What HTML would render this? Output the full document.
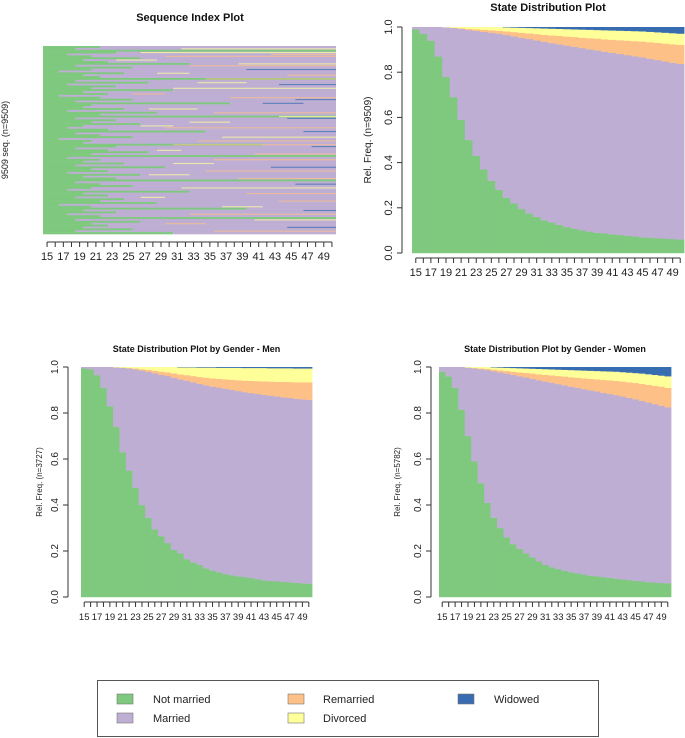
<!DOCTYPE html>
<html><head><meta charset="utf-8"><style>
body{margin:0;background:#fff;}
svg{display:block;font-family:"Liberation Sans",sans-serif;}
</style></head><body>
<svg id="chart" width="685" height="738" viewBox="0 0 685 738" xmlns="http://www.w3.org/2000/svg"></svg>
<script>
const ages = [15,16,17,18,19,20,21,22,23,24,25,26,27,28,29,30,31,32,33,34,35,36,37,38,39,40,41,42,43,44,45,46,47,48,49,50];
const xTickLabels = ["15","17","19","21","23","25","27","29","31","33","35","37","39","41","43","45","47","49"];
const yTickLabels = ["0.0","0.2","0.4","0.6","0.8","1.0"];
const stateNames = ["Not married","Married","Remarried","Divorced","Widowed"];

const allNotMarried = [.99,.97,.94,.87,.78,.69,.59,.50,.43,.37,.32,.28,.245,.22,.195,.175,.16,.145,.135,.125,.115,.108,.10,.095,.09,.087,.083,.08,.077,.073,.07,.068,.066,.064,.062,.06];
const allRemarried = [0,0,0,0,0,.001,.003,.005,.007,.009,.011,.013,.016,.019,.022,.025,.028,.031,.034,.037,.040,.043,.046,.049,.052,.055,.058,.061,.064,.067,.070,.073,.076,.079,.082,.084];
const allDivorced = [0,0,0,0,.001,.003,.005,.008,.010,.012,.014,.016,.018,.020,.022,.024,.026,.028,.030,.031,.033,.034,.036,.037,.038,.040,.041,.042,.043,.044,.045,.046,.047,.048,.049,.050];
const allWidowed = [0,0,0,0,0,0,0,0,0,0,0,0,.001,.002,.003,.004,.005,.006,.007,.008,.009,.010,.011,.012,.013,.014,.015,.016,.017,.018,.019,.021,.023,.025,.027,.029];

const menNotMarried = [.995,.99,.965,.91,.83,.74,.63,.55,.475,.40,.345,.295,.265,.235,.205,.19,.165,.15,.14,.125,.115,.108,.10,.095,.09,.087,.083,.078,.073,.07,.068,.066,.064,.062,.06,.058];
const menRemarried = [0,0,0,0,0,0,.001,.002,.004,.006,.009,.011,.014,.016,.019,.022,.024,.027,.030,.033,.036,.038,.041,.044,.047,.050,.053,.056,.059,.061,.064,.067,.069,.072,.074,.077];
const menDivorced = [0,0,0,0,0,.001,.002,.004,.006,.009,.012,.016,.020,.023,.027,.031,.034,.038,.041,.044,.047,.048,.050,.052,.054,.055,.056,.057,.058,.058,.059,.059,.060,.060,.060,.060];
const menWidowed = [0,0,0,0,0,0,0,0,0,0,0,0,0,0,0,.001,.001,.001,.002,.002,.002,.003,.003,.003,.003,.004,.004,.004,.004,.005,.005,.005,.005,.006,.006,.006];

const womenNotMarried = [.98,.96,.91,.815,.70,.59,.495,.41,.345,.30,.26,.23,.21,.19,.172,.155,.14,.13,.122,.114,.108,.103,.098,.093,.09,.087,.084,.08,.077,.074,.071,.068,.065,.063,.061,.06];
const womenRemarried = [0,0,0,0,0,.001,.003,.005,.007,.009,.011,.014,.017,.020,.023,.026,.029,.032,.035,.038,.041,.044,.047,.050,.053,.056,.059,.062,.065,.068,.071,.074,.077,.080,.083,.085];
const womenDivorced = [0,0,0,0,.002,.004,.006,.008,.010,.012,.014,.016,.018,.019,.021,.023,.025,.026,.028,.029,.031,.032,.034,.035,.036,.038,.039,.040,.041,.042,.043,.045,.046,.047,.048,.050];
const womenWidowed = [0,0,0,0,0,0,0,0,.001,.002,.003,.004,.005,.006,.007,.008,.009,.010,.011,.012,.013,.014,.015,.016,.017,.018,.019,.020,.022,.024,.026,.028,.031,.034,.037,.040];

// sequence index plot: age at first marriage per displayed row (51 = never married)
const seqMarriageAge = [22,19,51,24,18,21,27,20,23,33,19,26,21,17,25,20,22,51,19,28,18,24,21,31,20,23,17,22,26,19,38,21,20,25,18,29,22,51,19,24,21,27,20,18,23,35,19,22,26,17,21,20,42,24,19,23,28,21,51,18,22,20,25,19,30,21,23,18,27,20,24,51,19,22,26,21,18,33,20,23,19,25,22,29,17,21,40,20,24,18,22,51,19,27,21,23,20,26,19,31];
// events: [row, startAge, endAge(51=end), state]
const seqEvents = [[3,27,51,3],[5,30,51,2],[7,24,29,3],[10,33,51,2],[12,40,51,4],[14,29,33,3],[17,35,51,2],[20,44,51,4],[22,31,51,3],[25,26,30,2],[27,38,51,2],[30,42,47,4],[33,28,34,3],[35,36,51,2],[38,45,51,4],[40,33,38,3],[43,30,51,2],[45,47,51,4],[48,37,51,3],[50,34,51,2],[53,48,51,4],[55,29,32,3],[57,41,51,2],[1,32,51,3],[9,39,51,3],[15,45,51,2],[28,46,51,4],[42,27,31,3],[60,36,51,2],[62,31,36,3],[64,43,51,4],[66,35,51,2],[68,28,33,3],[70,39,51,2],[73,46,51,4],[75,32,51,3],[78,40,51,2],[80,27,30,3],[82,44,51,2],[85,37,42,3],[87,47,51,4],[89,33,51,2],[92,41,51,3],[94,30,35,2],[96,45,51,4],[98,36,51,2],[4,43,51,2],[19,34,40,3],[37,44,51,3],[52,31,51,2]];

const colors = ["#7fc97f","#beaed4","#fdc086","#ffff99","#386cb0"];
const svg = document.getElementById('chart');
const NS = "http://www.w3.org/2000/svg";
function el(tag, attrs, parent){const e=document.createElementNS(NS,tag);for(const k in attrs)e.setAttribute(k,attrs[k]);(parent||svg).appendChild(e);return e;}
function txt(s, attrs, parent){const e=el('text',attrs,parent);e.textContent=s;return e;}

function xAxis(g, x0, x1, yTop, fs){
  const n = ages.length, w = (x1-x0)/n;
  const ax = el('g',{},g);
  
  
  el('line',{x1:x0+w/2,x2:x1-w/2,y1:yTop,y2:yTop,stroke:'#333','stroke-width':1},ax);
  ages.forEach((a,i)=>{
    const cx = x0+(i+0.5)*w;
    el('line',{x1:cx,x2:cx,y1:yTop,y2:yTop+5,stroke:'#333','stroke-width':1},ax);
  });
  xTickLabels.forEach(l=>{
    const i = ages.indexOf(+l);
    const t = txt(l,{x:x0+(i+0.5)*w,y:yTop+18,'font-size':fs,'text-anchor':'middle',fill:'#222'},ax);
    
    
  });
}

function distPlot(name, geom, nm, rem, div, wid, title, ylab, ylx, fs){
  const g = el('g',{});
  
  
  const {x0,x1,y0,y1,axX} = geom;
  const n = ages.length, w=(x1-x0)/n;
  const yS = v => y0 - v*(y0-y1);
  ages.forEach((a,i)=>{
    const married = 1 - nm[i]-rem[i]-div[i]-wid[i];
    const vals = [nm[i],married,rem[i],div[i],wid[i]];
    let cum = 0;
    vals.forEach((v,k)=>{
      if(v<=0){return;}
      const r = el('rect',{x:x0+i*w,y:yS(cum+v),width:w+0.4,height:yS(cum)-yS(cum+v)+0.2,fill:colors[k]},g);
      
      
      cum+=v;
    });
  });
  const ya = el('g',{},g);
  
  
  el('line',{x1:axX,x2:axX,y1:yS(0),y2:yS(1),stroke:'#333'},ya);
  yTickLabels.forEach(l=>{
    const y=yS(+l);
    el('line',{x1:axX-5,x2:axX,y1:y,y2:y,stroke:'#333'},ya);
    const t=txt(l,{x:axX-10,y:y,'font-size':fs,'text-anchor':'middle',fill:'#222',transform:`rotate(-90 ${axX-10} ${y})`},ya);
    
    
  });
  xAxis(g,x0,x1,y0+5,geom.xfs);
  const tt = txt(title,{x:(x0+x1)/2,y:geom.ty,'font-size':geom.tfs,'font-weight':'bold','text-anchor':'middle',fill:'#111'},g);
  
  
  const yc=(y0+y1)/2;
  const yl = txt(ylab,{x:ylx,y:yc,'font-size':geom.lfs,'text-anchor':'middle',fill:'#222',transform:`rotate(-90 ${ylx} ${yc})`},g);
  
  
}

// Sequence index plot
(function(){
  const g = el('g',{});
  
  
  const x0=43,x1=336,y0=46,y1=234;
  const n=ages.length,w=(x1-x0)/n,h=(y1-y0)/seqMarriageAge.length;
  seqMarriageAge.forEach((m,r)=>{
    const idx = Math.min(m - 15, n);
    const gr = el('rect',{x:x0,y:y0+r*h,width:idx*w,height:h+0.3,fill:colors[0]},g);
    
    
    if(idx<n){
      const pr = el('rect',{x:x0+idx*w,y:y0+r*h,width:(n-idx)*w,height:h+0.3,fill:colors[1]},g);
      
      
    }
  });
  seqEvents.forEach(ev=>{
    const [r,s,e,st]=ev;
    const si=s-15, ei=Math.min(e-15,n);
    const er = el('rect',{x:x0+si*w,y:y0+r*h+h*0.2,width:(ei-si)*w,height:h*0.6,fill:colors[st],opacity:0.7},g);
    
    
  });
  xAxis(g,x0,x1,242,11);
  const t=txt('Sequence Index Plot',{x:190,y:21,'font-size':11,'font-weight':'bold','text-anchor':'middle',fill:'#111'},g);
  
  
  const yl=txt('9509 seq. (n=9509)',{x:8,y:140,'font-size':9,'text-anchor':'middle',fill:'#222',transform:'rotate(-90 8 140)'},g);
  
  
})();

distPlot('state-distribution-plot',{x0:412,x1:684,y0:253,y1:27,axX:402,ty:11,tfs:11,lfs:10,xfs:11},allNotMarried,allRemarried,allDivorced,allWidowed,'State Distribution Plot','Rel. Freq. (n=9509)',371,11);
distPlot('state-distribution-men',{x0:81,x1:312,y0:597,y1:367,axX:68,ty:352,tfs:9,lfs:8,xfs:9.5},menNotMarried,menRemarried,menDivorced,menWidowed,'State Distribution Plot by Gender -  Men','Rel. Freq. (n=3727)',42,10);
distPlot('state-distribution-women',{x0:439,x1:671,y0:597,y1:367,axX:431,ty:352,tfs:9,lfs:8,xfs:9.5},womenNotMarried,womenRemarried,womenDivorced,womenWidowed,'State Distribution Plot by Gender -  Women','Rel. Freq. (n=5782)',400,10);

// Legend
(function(){
  const g=el('g',{});
  
  
  el('rect',{x:97.5,y:680.5,width:501,height:56,fill:'none',stroke:'#555'},g);
  const pos=[[117,153,694],[117,153,713],[288,323,694],[288,323,713],[458,494,694]];
  [0,1,2,3,4].forEach((k,i)=>{
    const [sx,tx,y]=pos[i];
    const e=el('g',{},g);
    
    
    el('rect',{x:sx,y:y,width:16,height:10,fill:colors[k],stroke:'#777','stroke-width':0.6},e);
    txt(stateNames[k],{x:tx,y:y+9,'font-size':11,fill:'#222'},e);
  });
})();
</script>
</body></html>
